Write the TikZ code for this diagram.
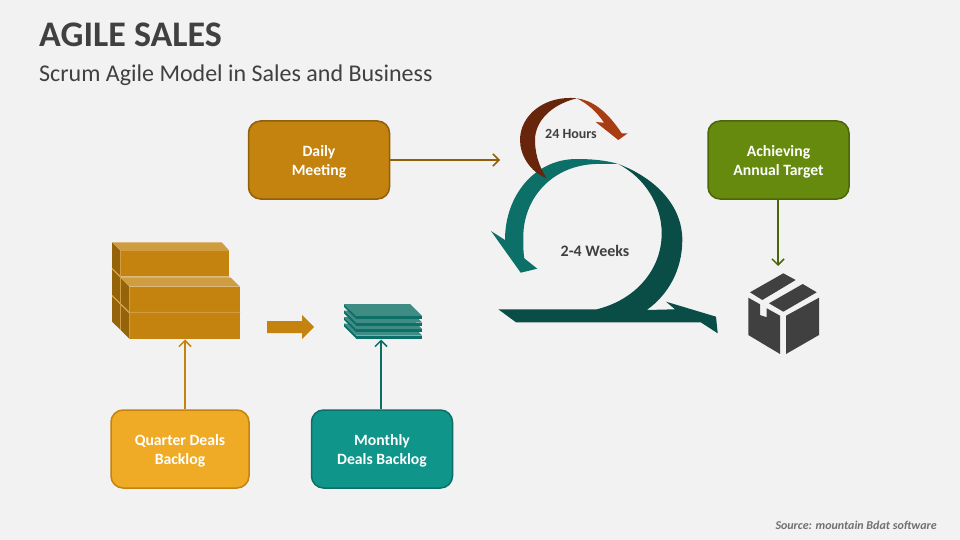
\documentclass[tikz,border=0pt]{standalone}
\usepackage{fontspec}
\setmainfont{Carlito}
\usetikzlibrary{arrows.meta}
\definecolor{bgc}{HTML}{F2F2F2}
\definecolor{txt}{HTML}{404040}
\definecolor{gold}{HTML}{C4820E}
\definecolor{golddk}{HTML}{8F5F0A}
\definecolor{goldlt}{HTML}{CF9C40}
\definecolor{amber}{HTML}{F0AB26}
\definecolor{grn}{HTML}{668A0E}
\definecolor{grndk}{HTML}{4B650A}
\definecolor{teal}{HTML}{10958A}
\definecolor{tealdk}{HTML}{0C6E66}
\definecolor{teallt}{HTML}{3F8C84}
\definecolor{tealfront}{HTML}{0C7068}
\definecolor{tealshade}{HTML}{0A4C46}
\definecolor{brn}{HTML}{67260C}
\definecolor{rust}{HTML}{A83C12}
\newcommand{\boxstrut}{\rule{0pt}{15pt}}
\tikzset{x=1pt,y=-1pt,
 lbl/.style={align=center,text=white,font=\fontsize{15.7}{19}\selectfont\bfseries,rounded corners=12pt,line width=1.5pt,minimum width=141pt,minimum height=78pt,inner sep=0pt},
 conn/.style={line width=1.5pt,-{Straight Barb[length=6pt,width=12pt,line width=1.5pt]}},
 fronts/.style={fill=gold,draw=none},
 sideface/.style={fill=golddk!90!gold,draw=none},
 topface/.style={fill=goldlt,draw=none},
 seam/.style={draw=goldlt,line width=1.1pt},
 captxt/.style={text=txt,font=\fontsize{16}{18}\selectfont\bfseries,inner sep=0pt}}
\begin{document}
\begin{tikzpicture}
\useasboundingbox[fill=bgc] (0,0) rectangle (960,540);
% titles
\node[anchor=west,text=txt,font=\fontsize{36}{42}\selectfont\bfseries,inner sep=0pt] (title) at (39,35) {AGILE SALES};
\node[anchor=west,text=txt,font=\fontsize{24}{28}\selectfont,inner sep=0pt] (sub) at (39,75.5) {Scrum Agile Model in Sales and Business};
\node[anchor=east,text=txt!75,font=\fontsize{12}{14}\selectfont\bfseries\itshape,inner sep=0pt] (src) at (937,525) {Source: mountain Bdat software};
% boxes
\node[lbl,fill=gold,draw=golddk] (daily) at (319,160) {\boxstrut Daily\\Meeting};
\node[lbl,fill=grn,draw=grndk] (target) at (778.5,160) {\boxstrut Achieving\\Annual Target};
\node[lbl,fill=amber,draw=gold,minimum width=138pt] (quarter) at (180,449) {\boxstrut Quarter Deals\\Backlog};
\node[lbl,fill=teal,draw=tealdk] (monthly) at (382,449) {\boxstrut Monthly\\Deals Backlog};
% big arrow (dark)
\fill[tealshade] (618.3,164) .. controls (655,178) and (682.3,205) .. (682.3,240)
 .. controls (682.3,270) and (668,295) .. (646.7,310) -- (675,309.3) -- (666,301.7) -- (716,316.7) -- (717.7,333.3) -- (700.7,322.3) -- (516,322.3) -- (498.3,309.3) -- (596.7,309.3)
 .. controls (635,300) and (661.7,270) .. (661.7,233.3) .. controls (661.7,205) and (645,178) .. (618.3,164) -- cycle;
% big arrow (light)
\fill[tealfront] (618.3,164) .. controls (605,160) and (590,159) .. (576.7,159) .. controls (535,159) and (505,195) .. (505,240) -- (491,231) -- (520.7,272.7) -- (537.3,268.7) -- (524.3,258.3)
 .. controls (523,250) and (523.3,243) .. (523.3,236.7) .. controls (523.3,200) and (550,166) .. (595,164) -- cycle;
% small arrow
\fill[brn] (576.7,98.3) .. controls (545,95) and (520,115) .. (520,140) .. controls (520,155) and (530,172) .. (546.7,178.3) .. controls (538,165) and (535,152) .. (535,140) .. controls (535,122) and (550,105) .. (576.7,98.3) -- cycle;
\fill[rust] (576.7,98.3) .. controls (590,100) and (605,108) .. (621.7,133.3) -- (627.7,133.3) -- (618.3,140) -- (595.7,122) -- (604,122.7) .. controls (597,112) and (588,104) .. (576.7,98.3) -- cycle;
\node[captxt,font=\fontsize{14}{16}\selectfont\bfseries] (hours) at (571,133.5) {24 Hours};
\node[captxt] (weeks) at (595,251) {2-4 Weeks};
% stacked boxes
\fill[sideface] (112,242.3) -- (120.7,250.7) -- (120.7,276) -- (112,268.3) -- cycle;
\fill[sideface] (112,269.3) -- (120.7,277.7) -- (120.7,303.3) -- (112,295) -- cycle;
\fill[sideface] (112,296) -- (120.7,305) -- (120.7,330) -- (112,321.7) -- cycle;
\fill[sideface] (120.7,277.7) -- (129.3,286.7) -- (129.3,311.7) -- (120.7,303.3) -- cycle;
\fill[sideface] (120.7,305) -- (129.3,313.3) -- (129.3,338.7) -- (120.7,330) -- cycle;
\fill[topface] (112,242.3) -- (221.7,242.3) -- (229.3,250.7) -- (120.7,250.7) -- cycle;
\fill[fronts] (120.7,250.7) rectangle (229.3,276);
\fill[topface] (120.7,277.7) -- (230.7,277.7) -- (240,286.7) -- (129.3,286.7) -- cycle;
\fill[fronts] (129.3,286.7) rectangle (240,311.7);
\fill[fronts] (129.3,313.3) rectangle (240,338.7);
\draw[seam] (120.7,250.7) -- (229.3,250.7);
\draw[seam] (120.7,250.7) -- (120.7,276);
\draw[seam] (112,268.5) -- (120.7,277) -- (229.3,277);
\draw[seam] (120.7,277.7) -- (120.7,330);
\draw[seam] (112,295.5) -- (129.3,312.5) -- (240,312.5);
\draw[seam] (129.3,286.7) -- (129.3,338.7);
% layers
\foreach \d in {19.5,13,6.5,0}{
 \fill[tealfront] (344,304+\d) -- (356,316+\d) -- (356,319+\d) -- (344,307+\d) -- cycle;
 \fill[teallt] (344,304+\d) -- (410,304+\d) -- (422,316+\d) -- (356,316+\d) -- cycle;
 \fill[tealfront] (356,316+\d) rectangle (422,319+\d);
}
% gold arrow
\fill[gold] (267,321) -- (302,321) -- (302,315) -- (314,327) -- (302,339) -- (302,333) -- (267,333) -- cycle;
% package icon
\fill[txt] (750,292.3) -- (783.3,273.3) -- (795.7,280) -- (762.3,300) -- cycle;
\fill[txt] (769,303.3) -- (802.7,284) -- (816.7,292.3) -- (783.3,311.7) -- cycle;
\fill[txt] (748.3,297.7) -- (760,304.3) -- (760,315) -- (766.7,317.3) -- (766.7,308.3) -- (780,315.7) -- (780,354) -- (748.3,335) -- cycle;
\fill[txt] (786,315.7) -- (819,297.7) -- (819,335) -- (786,354) -- cycle;
% connectors
\coordinate (meetEnd) at (500,160);
\coordinate (boxEnd) at (778,266);
\coordinate (stackEnd) at (185,339.5);
\coordinate (layerEnd) at (381,339.5);
\draw[conn,draw=golddk] (daily.east) -- (meetEnd);
\draw[conn,draw=grndk] (target.south -| boxEnd) -- (boxEnd);
\draw[conn,draw=gold] (quarter.north -| stackEnd) -- (stackEnd);
\draw[conn,draw=tealdk] (monthly.north -| layerEnd) -- (layerEnd);
\end{tikzpicture}
\end{document}
